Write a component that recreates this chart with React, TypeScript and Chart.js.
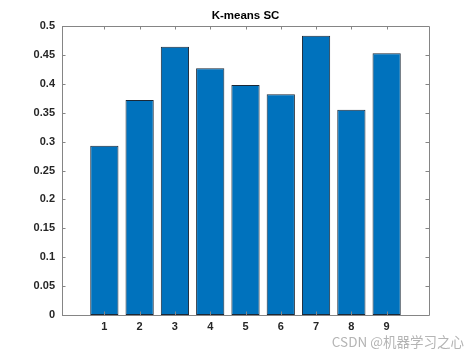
import React, { useEffect, useRef } from "react";
import { Chart, registerables } from "chart.js";

Chart.register(...registerables);

const categories = [1, 2, 3, 4, 5, 6, 7, 8, 9];
const xTickLabels = ["1", "2", "3", "4", "5", "6", "7", "8", "9"];
const scValues = [0.293, 0.372, 0.464, 0.427, 0.398, 0.382, 0.483, 0.355, 0.453];
const yTicks = [0, 0.05, 0.1, 0.15, 0.2, 0.25, 0.3, 0.35, 0.4, 0.45, 0.5];
const yTickLabels = ["0", "0.05", "0.1", "0.15", "0.2", "0.25", "0.3", "0.35", "0.4", "0.45", "0.5"];
const chartTitle = "K-means SC";
const watermark = "CSDN @机器学习之心";

const FONT = "'Liberation Sans', Arial, Helvetica, sans-serif";
const TEXT = "#262626";
const AXIS = "#858585";

const decorPlugin = {
  id: "matlabDecor",
  afterDraw(chart: any) {
    const { ctx, chartArea, scales } = chart;
    const { left, right, top, bottom } = chartArea;
    ctx.save();
    ctx.strokeStyle = AXIS;
    ctx.lineWidth = 1;
    ctx.beginPath();
    ctx.rect(Math.round(left) + 0.5, Math.round(top) + 0.5, Math.round(right - left), Math.round(bottom - top));
    ctx.stroke();
    const tl = 3.5;
    ctx.beginPath();
    for (const v of yTicks) {
      const py = Math.round(scales.y.getPixelForValue(v)) + 0.5;
      ctx.moveTo(left, py);
      ctx.lineTo(left + tl, py);
      ctx.moveTo(right, py);
      ctx.lineTo(right - tl, py);
    }
    for (const v of categories) {
      const px = Math.round(scales.x.getPixelForValue(v)) + 0.5;
      ctx.moveTo(px, bottom);
      ctx.lineTo(px, bottom - tl);
      ctx.moveTo(px, top);
      ctx.lineTo(px, top + tl);
    }
    ctx.stroke();

    ctx.fillStyle = "#000000";
    ctx.font = `bold 11.5px ${FONT}`;
    ctx.textAlign = "center";
    ctx.textBaseline = "middle";
    ctx.fillText(chartTitle, (left + right) / 2, 16);

    ctx.fillStyle = "#b4b4b4";
    ctx.font = `13.5px 'Noto Sans CJK SC', 'Liberation Sans', sans-serif`;
    ctx.textAlign = "right";
    ctx.textBaseline = "middle";
    ctx.fillText(watermark, 464, 342);
    ctx.restore();
  },
};

export default function App() {
  const canvasRef = useRef<HTMLCanvasElement | null>(null);

  useEffect(() => {
    if (!canvasRef.current) return;
    const chart = new Chart(canvasRef.current, {
      type: "bar",
      data: {
        datasets: [
          {
            data: categories.map((c, i) => ({ x: c, y: scValues[i] })),
            backgroundColor: "#0072BD",
            borderColor: "#1b2836",
            borderWidth: 1,
            borderSkipped: false,
            categoryPercentage: 0.8,
            barPercentage: 1,
          },
        ],
      },
      options: {
        animation: false,
        responsive: false,
        maintainAspectRatio: false,
        devicePixelRatio: 1,
        layout: { padding: { left: 0, right: 45, top: 26, bottom: 0 } },
        plugins: { legend: { display: false }, tooltip: { enabled: false }, title: { display: false } },
        scales: {
          x: {
            type: "linear",
            offset: false,
            min: -0.2,
            max: 10.2,
            afterBuildTicks: (s: any) => {
              s.ticks = categories.map((v) => ({ value: v }));
            },
            afterFit: (s: any) => {
              s.height = 40;
            },
            ticks: {
              autoSkip: false,
              maxRotation: 0,
              padding: 5,
              color: TEXT,
              font: { family: FONT, size: 11, weight: "bold" },
              callback: (_v: any, i: number) => xTickLabels[i],
            },
            grid: { display: false, drawTicks: false },
            border: { display: false },
          },
          y: {
            min: 0,
            max: 0.5,
            afterBuildTicks: (s: any) => {
              s.ticks = yTicks.map((v) => ({ value: v }));
            },
            afterFit: (s: any) => {
              s.width = 62;
            },
            ticks: {
              autoSkip: false,
              padding: 7,
              color: TEXT,
              font: { family: FONT, size: 11, weight: "bold" },
              callback: (_v: any, i: number) => yTickLabels[i],
            },
            grid: { display: false, drawTicks: false },
            border: { display: false },
          },
        },
      } as any,
      plugins: [decorPlugin],
    });
    return () => chart.destroy();
  }, []);

  return (
    <div style={{ position: "absolute", left: 0, top: 0, width: 474, height: 355, background: "#ffffff" }}>
      <canvas ref={canvasRef} width={474} height={355} style={{ width: 474, height: 355, display: "block" }} />
    </div>
  );
}
